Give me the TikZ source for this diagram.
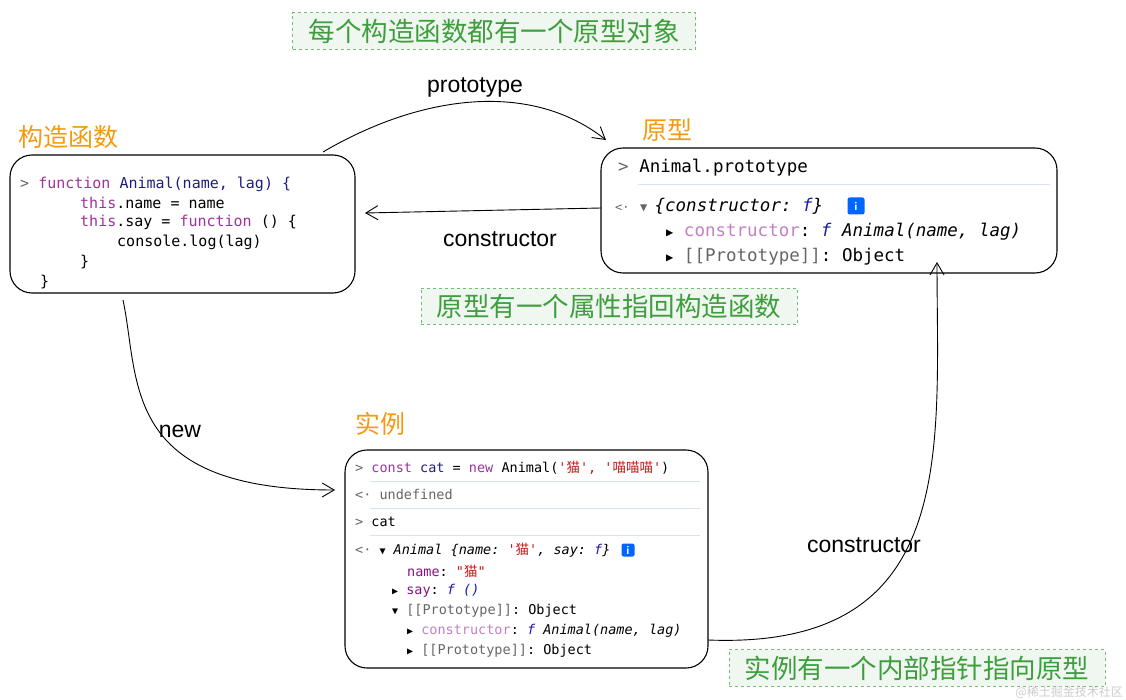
\documentclass[tikz,border=0pt]{standalone}
\usepackage{fontspec}
\setmainfont{Liberation Sans}
\setmonofont{DejaVu Sans Mono}
\newfontfamily\cjk{Noto Sans CJK SC}
\usetikzlibrary{arrows.meta}
\definecolor{kw}{HTML}{A0329B}
\definecolor{idn}{HTML}{1F1F7A}
\definecolor{prop}{HTML}{881280}
\definecolor{fprop}{HTML}{C47FC4}
\definecolor{str}{HTML}{C41A16}
\definecolor{fb}{HTML}{1A1AA6}
\definecolor{gr}{HTML}{666666}
\definecolor{ora}{HTML}{F59A0E}
\definecolor{grn}{HTML}{3E9E3E}
\definecolor{sep}{HTML}{D8E2F0}
\tikzset{x=1pt,y=-1pt,
 box/.style={draw=black,line width=1.1pt,rounded corners=22pt},
 note/.style={draw=grn!70,dashed,fill=grn!8,text=grn,font=\cjk\fontsize{26.5}{30}\selectfont,inner xsep=16pt,inner ysep=6pt},
 title/.style={text=ora,font=\cjk\fontsize{25}{28}\selectfont},
 lab/.style={font=\fontsize{23}{26}\selectfont},
 ca/.style={anchor=west,inner sep=0pt,font=\ttfamily\fontsize{15}{17}\selectfont},
 cb/.style={anchor=west,inner sep=0pt,font=\ttfamily\fontsize{17.5}{19}\selectfont},
 cc/.style={anchor=west,inner sep=0pt,font=\ttfamily\fontsize{13.5}{15}\selectfont},
 arr/.style={line width=0.9pt,-{Straight Barb[length=12pt,width=14pt]}},
 info/.style={fill=blue!60!cyan,rounded corners=2pt,text=white,inner sep=0pt,minimum width=#1,minimum height=#1,font=\sffamily\bfseries\fontsize{12}{12}\selectfont},
}
\begin{document}
\begin{tikzpicture}
\useasboundingbox (0,0) rectangle (1126,700);
% notes
\node[note] (n1) at (494,31) {每个构造函数都有一个原型对象};
\node[note] (n2) at (609,306) {原型有一个属性指回构造函数};
\node[note] (n3) at (917,668) {实例有一个内部指针指向原型};
% titles
\node[title] (t1) at (68,137) {构造函数};
\node[title] (t2) at (667,130) {原型};
\node[title] (t3) at (380,424) {实例};
% box 1
\draw[box] (10,155) rectangle (355,293);
\node[ca] (a1) at (20,184) {\textcolor{gr}{>} \textcolor{kw}{function} \textcolor{idn}{Animal(name, lag) \{}};
\node[ca] (a2) at (80,203) {\textcolor{kw}{this}.name = name};
\node[ca] (a3) at (80,222) {\textcolor{kw}{this}.say = \textcolor{kw}{function} () \{};
\node[ca] (a4) at (117,242) {console.log(lag)};
\node[ca] (a5) at (80,262) {\}};
\node[ca] (a6) at (40,282) {\}};
% box 2
\draw[box] (601,148) rectangle (1057,273);
\draw[sep] (638,184) -- (1050,184);
\node[cb] (b1) at (618,168) {\textcolor{gr}{>} Animal.prototype};
\node[cb] (b2) at (615,206) {\textcolor{gr}{\fontsize{12}{12}\selectfont<·} \fontsize{12}{12}\selectfont\textcolor{gr}{▼} \fontsize{17.5}{19}\selectfont\textit{\{constructor: \textcolor{fb}{f}\}}};
\node[info=17pt] (i1) at (856,206) {i};
\node[cb] (b3) at (666,232) {{\fontsize{12}{12}\selectfont▶} \textcolor{fprop}{constructor}: \textcolor{fb}{\textit{f}} \textit{Animal(name, lag)}};
\node[cb] (b4) at (666,257) {{\fontsize{12}{12}\selectfont▶} \textcolor{gr}{[[Prototype]]}: Object};
% box 3
\draw[box] (345,450) rectangle (708,668);
\draw[sep] (370,481) -- (700,481);
\draw[sep] (370,508) -- (700,508);
\draw[sep] (370,535) -- (700,535);
\node[cc] (c1) at (355,468) {\textcolor{gr}{>} \textcolor{kw}{const} \textcolor{idn}{cat} = \textcolor{kw}{new} Animal(\textcolor{str}{'{\cjk 猫}', '{\cjk 喵喵喵}'})};
\node[cc] (c2) at (355,494) {\textcolor{gr}{<· undefined}};
\node[cc] (c3) at (355,522) {\textcolor{gr}{>} cat};
\node[cc] (c4) at (355,550) {\textcolor{gr}{<·} {\fontsize{10}{10}\selectfont▼} \textit{Animal \{name: \textcolor{str}{'{\cjk 猫}'}, say: \textcolor{fb}{f}\}}};
\node[info=13pt] (i2) at (628,550) {i};
\node[cc] (c5) at (407,571) {\textcolor{prop}{name}: \textcolor{str}{"{\cjk 猫}"}};
\node[cc] (c6) at (392,591) {{\fontsize{10}{10}\selectfont▶} \textcolor{prop}{say}: \textcolor{fb}{\textit{f ()}}};
\node[cc] (c7) at (392,611) {{\fontsize{10}{10}\selectfont▼} \textcolor{gr}{[[Prototype]]}: Object};
\node[cc] (c8) at (407,631) {{\fontsize{10}{10}\selectfont▶} \textcolor{fprop}{constructor}: \textcolor{fb}{\textit{f}} \textit{Animal(name, lag)}};
\node[cc] (c9) at (407,651) {{\fontsize{10}{10}\selectfont▶} \textcolor{gr}{[[Prototype]]}: Object};
% labels
\node[lab] (l1) at (475,87) {prototype};
\node[lab] (l2) at (500,239) {constructor};
\node[lab] (l3) at (180,431) {new};
\node[lab] (l4) at (864,545) {constructor};
\node[text=gray!40,font=\cjk\fontsize{12}{14}\selectfont,anchor=south east,inner sep=1pt] (wm) at (1124,700) {@稀土掘金技术社区};
% connectors
\coordinate (p1) at (323,152);
\coordinate (p2) at (606,140);
\draw[arr] (p1) .. controls (420,95) and (530,80) .. (p2);
\coordinate (q1) at (601,208);
\coordinate (q2) at (365,213);
\draw[arr] (q1) -- (q2);
\coordinate (r1) at (123,300);
\coordinate (r2) at (335,490);
\draw[arr] (r1) .. controls (140,380) and (120,490) .. (r2);
\coordinate (s1) at (708,640);
\coordinate (s2) at (937,262);
\draw[arr] (s1) .. controls (960,650) and (937,450) .. (s2);
\end{tikzpicture}
\end{document}
